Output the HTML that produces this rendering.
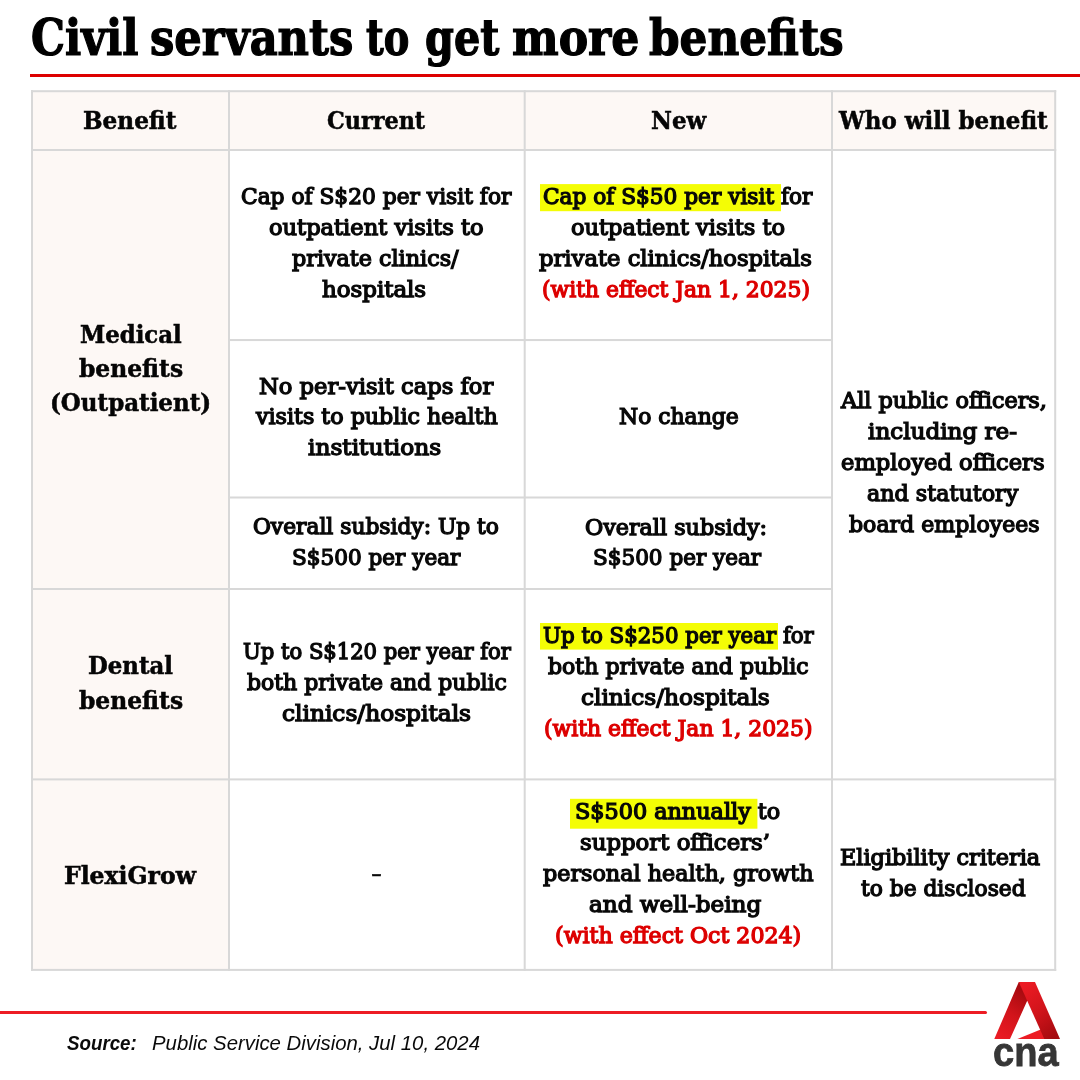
<!DOCTYPE html>
<html lang="en">
<head>
<meta charset="utf-8">
<title>Civil servants to get more benefits</title>
<style>
html,body{margin:0;padding:0;background:#fff}
body{width:1080px;height:1080px;position:relative;overflow:hidden;font-family:"DejaVu Serif","Liberation Serif",serif}
.abs{position:absolute}
.t{position:absolute;white-space:pre;transform-origin:0 0;line-height:1}
.grp{position:absolute;left:0;top:0;width:0;height:0;margin:0;padding:0;font-size:0}
.bg{position:absolute;background:#fdf8f5}
.ttl{font:normal 700 50px/1 'DejaVu Serif Condensed','DejaVu Serif','Liberation Serif',serif;color:#000;-webkit-text-stroke:1.2px #000}
.hd{font:normal 700 25px/1 'DejaVu Serif Condensed','DejaVu Serif','Liberation Serif',serif;color:#050505;-webkit-text-stroke:0.5px #050505}
.bd{font:normal 400 22.5px/1 'DejaVu Serif Condensed','DejaVu Serif','Liberation Serif',serif;color:#080808;-webkit-text-stroke:1.25px #080808}
.red{color:#dd0000;-webkit-text-stroke-color:#dd0000}
.dash{-webkit-text-stroke-width:0.4px}
.srcb{font:italic 700 21px/1 'Liberation Sans',sans-serif;color:#0a0a0a}
.src{font:italic 400 21px/1 'Liberation Sans',sans-serif;color:#0a0a0a}
.cna{font:normal 700 41.5px/1 'Liberation Sans',sans-serif;color:#363636;-webkit-text-stroke:0.8px #363636}
</style>
</head>
<body>
<!-- top red rule -->
<div class="abs" style="left:30px;top:74px;width:1050px;height:3px;background:#dd0000"></div>
<!-- table backgrounds -->
<div class="bg" style="left:32px;top:91px;width:1023px;height:59px"></div>
<div class="bg" style="left:32px;top:91px;width:197px;height:879px"></div>
<!-- table grid -->
<svg class="abs" style="left:0;top:0" width="1080" height="1080" viewBox="0 0 1080 1080" fill="#d8d8d8">
<rect x="31.00" y="90.2" width="2" height="880.7"/>
<rect x="228.00" y="90.2" width="2" height="880.7"/>
<rect x="523.70" y="90.2" width="2" height="880.7"/>
<rect x="831.00" y="90.2" width="2" height="880.7"/>
<rect x="1054.20" y="90.2" width="2" height="880.7"/>
<rect x="31" y="90.20" width="1025.2" height="2"/>
<rect x="31" y="149.00" width="1025.2" height="2"/>
<rect x="31" y="778.40" width="1025.2" height="2"/>
<rect x="31" y="968.90" width="1025.2" height="2"/>
<rect x="229" y="339.05" width="603" height="2"/>
<rect x="229" y="496.5" width="603" height="2"/>
<rect x="31" y="588" width="801" height="2"/>
</svg>
<!-- highlights -->
<svg class="abs" style="left:0;top:0" width="1080" height="1080" viewBox="0 0 1080 1080" fill="#f4fd05">
<rect x="540" y="184.1" width="241" height="27.1"/>
<rect x="540" y="623" width="238" height="26.6"/>
<rect x="570" y="798.8" width="187.4" height="29.9"/>
</svg>
<!-- bottom red rule -->
<div class="abs" style="left:-2px;top:1010.6px;width:989px;height:3.4px;background:#ed1c24;border-radius:2px"></div>
<svg class="abs" style="left:985px;top:975px" width="85" height="70" viewBox="985 975 85 70">
<defs>
<linearGradient id="gl" x1="0" y1="1" x2="0.45" y2="0"><stop offset="0" stop-color="#ee1c25"/><stop offset="0.55" stop-color="#d2141b"/><stop offset="1" stop-color="#a80b10"/></linearGradient>
<linearGradient id="gr" x1="0.2" y1="0" x2="0.8" y2="1"><stop offset="0" stop-color="#ec1b24"/><stop offset="0.5" stop-color="#d2141b"/><stop offset="1" stop-color="#a50a0f"/></linearGradient>
</defs>
<polygon points="1018.8,981.9 1022,981.9 1029,1000.9 1027.1,1000.9 1010,1039.1 994.3,1039.1" fill="url(#gl)"/>
<polygon points="1017.4,1039.1 1040.1,1029.8 1042,1029.8 1046,1039.1" fill="#ec1c24"/>
<polygon points="1018.8,981.9 1035,981.9 1060,1039.1 1044.3,1039.1" fill="url(#gr)"/>
</svg>
<h1 class="grp">
<span class="t ttl" style="left:30.95px;top:12.90px;transform:scaleX(0.9492)">Civil </span>
<span class="t ttl" style="left:150.39px;top:12.90px;transform:scaleX(0.9600)">servants </span>
<span class="t ttl" style="left:365.50px;top:12.90px;transform:scaleX(0.8518)">to </span>
<span class="t ttl" style="left:425.43px;top:12.90px;transform:scaleX(0.9187)">get </span>
<span class="t ttl" style="left:511.62px;top:12.90px;transform:scaleX(0.9802)">more </span>
<span class="t ttl" style="left:649.13px;top:12.90px;transform:scaleX(0.9728)">benefits</span>
</h1>
<section class="grp" aria-label="Benefits table">
<span class="t hd" style="left:83.22px;top:107.68px;transform:scaleX(1.0295)">Benefit</span>
<span class="t hd" style="left:327.25px;top:107.68px;transform:scaleX(0.9911)">Current</span>
<span class="t hd" style="left:651.15px;top:107.68px;transform:scaleX(1.0189)">New</span>
<span class="t hd" style="left:838.77px;top:107.68px;transform:scaleX(1.0193)">Who will benefit</span>
<span class="t hd" style="left:79.55px;top:321.88px;transform:scaleX(1.0136)">Medical</span>
<span class="t hd" style="left:79.05px;top:356.38px;transform:scaleX(1.0398)">benefits</span>
<span class="t hd" style="left:49.81px;top:390.48px;transform:scaleX(1.0203)">(Outpatient)</span>
<span class="t hd" style="left:87.63px;top:653.38px;transform:scaleX(1.0154)">Dental</span>
<span class="t hd" style="left:79.05px;top:687.88px;transform:scaleX(1.0398)">benefits</span>
<span class="t hd" style="left:64.00px;top:862.77px;transform:scaleX(1.0450)">FlexiGrow</span>
<span class="t bd" style="left:240.75px;top:184.69px;transform:scaleX(1.0744)">Cap of S$20 per visit for</span>
<span class="t bd" style="left:268.91px;top:216.09px;transform:scaleX(1.1143)">outpatient visits to</span>
<span class="t bd" style="left:292.32px;top:246.99px;transform:scaleX(1.0996)">private clinics/</span>
<span class="t bd" style="left:322.43px;top:277.89px;transform:scaleX(1.1304)">hospitals</span>
<span class="t bd" style="left:259.32px;top:374.79px;transform:scaleX(1.1178)">No per-visit caps for</span>
<span class="t bd" style="left:256.32px;top:405.39px;transform:scaleX(1.0950)">visits to public health</span>
<span class="t bd" style="left:307.62px;top:436.29px;transform:scaleX(1.1486)">institutions</span>
<span class="t bd" style="left:252.85px;top:515.19px;transform:scaleX(1.0751)">Overall subsidy: Up to</span>
<span class="t bd" style="left:291.76px;top:546.09px;transform:scaleX(1.0658)">S$500 per year</span>
<span class="t bd" style="left:242.62px;top:640.39px;transform:scaleX(1.0427)">Up to S$120 per year for</span>
<span class="t bd" style="left:247.22px;top:671.29px;transform:scaleX(1.0845)">both private and public</span>
<span class="t bd" style="left:281.78px;top:702.19px;transform:scaleX(1.1498)">clinics/hospitals</span>
<span class="t bd dash" style="left:370.60px;top:861.50px;transform:scaleX(1.6000)">-</span>
<span class="t bd" style="left:542.95px;top:185.39px;transform:scaleX(1.0704)">Cap of S$50 per visit for</span>
<span class="t bd" style="left:570.71px;top:216.29px;transform:scaleX(1.1117)">outpatient visits to</span>
<span class="t bd" style="left:539.33px;top:247.39px;transform:scaleX(1.1204)">private clinics/hospitals</span>
<span class="t bd red" style="left:541.55px;top:277.89px;transform:scaleX(1.0790)">(with effect Jan 1, 2025)</span>
<span class="t bd" style="left:619.02px;top:405.39px;transform:scaleX(1.0810)">No change</span>
<span class="t bd" style="left:584.63px;top:515.69px;transform:scaleX(1.0990)">Overall subsidy:</span>
<span class="t bd" style="left:593.46px;top:546.29px;transform:scaleX(1.0639)">S$500 per year</span>
<span class="t bd" style="left:542.62px;top:623.99px;transform:scaleX(1.0540)">Up to S$250 per year for</span>
<span class="t bd" style="left:548.12px;top:655.09px;transform:scaleX(1.0882)">both private and public</span>
<span class="t bd" style="left:580.98px;top:685.69px;transform:scaleX(1.1480)">clinics/hospitals</span>
<span class="t bd red" style="left:543.74px;top:717.09px;transform:scaleX(1.0814)">(with effect Jan 1, 2025)</span>
<span class="t bd" style="left:574.82px;top:800.39px;transform:scaleX(1.1026)">S$500 annually to</span>
<span class="t bd" style="left:580.40px;top:831.29px;transform:scaleX(1.1269)">support officers’</span>
<span class="t bd" style="left:542.62px;top:862.39px;transform:scaleX(1.0997)">personal health, growth</span>
<span class="t bd" style="left:588.68px;top:892.89px;transform:scaleX(1.1410)">and well-being</span>
<span class="t bd red" style="left:555.43px;top:923.99px;transform:scaleX(1.0923)">(with effect Oct 2024)</span>
<span class="t bd" style="left:841.13px;top:388.69px;transform:scaleX(1.1042)">All public officers,</span>
<span class="t bd" style="left:868.42px;top:419.79px;transform:scaleX(1.1401)">including re-</span>
<span class="t bd" style="left:841.41px;top:450.89px;transform:scaleX(1.1182)">employed officers</span>
<span class="t bd" style="left:866.73px;top:481.59px;transform:scaleX(1.0986)">and statutory</span>
<span class="t bd" style="left:848.73px;top:512.69px;transform:scaleX(1.0902)">board employees</span>
<span class="t bd" style="left:840.32px;top:846.39px;transform:scaleX(1.1038)">Eligibility criteria</span>
<span class="t bd" style="left:861.12px;top:877.09px;transform:scaleX(1.0744)">to be disclosed</span>
</section>
<footer class="grp">
<span class="t cna" style="left:992.78px;top:1030.80px;transform:scaleX(0.9170)">cna</span>
<span class="t srcb" style="left:66.60px;top:1032.20px;transform:scaleX(0.8926)">Source:</span>
<span class="t src" style="left:151.50px;top:1032.20px;transform:scaleX(0.9689)">Public Service Division, Jul 10, 2024</span>
</footer>
</body>
</html>
